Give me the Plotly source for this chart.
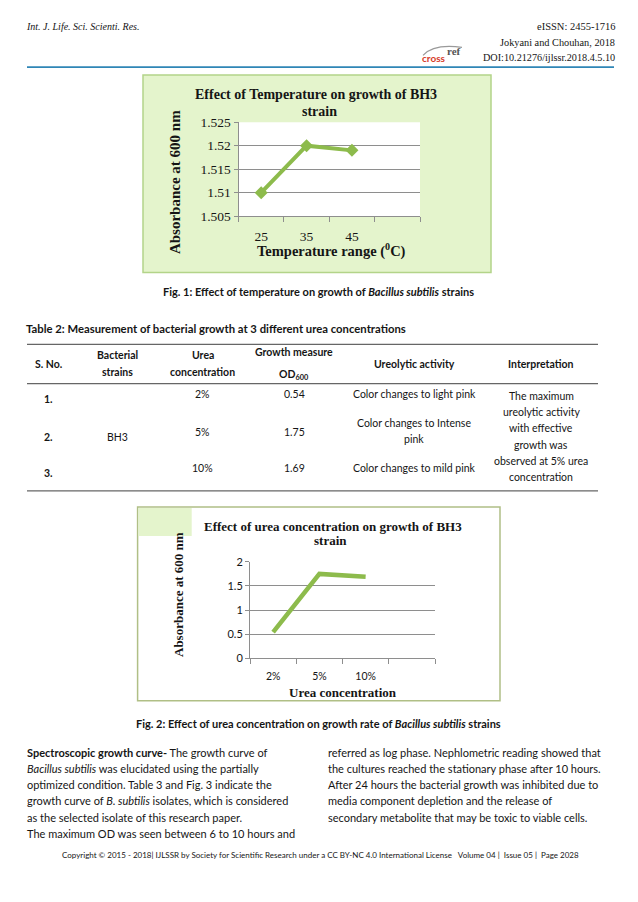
import plotly.graph_objects as go

# page is drawn inside the default 8px body margin of the html page
PAGE_W, PAGE_H = 638, 902
OFF = 8
W, H = PAGE_W - 2 * OFF, PAGE_H - 2 * OFF


def px(x):
    return (x - OFF) / W


def py(y):
    return 1 - (y - OFF) / H


# ---------------- data ----------------
temp_labels = ["25", "35", "45"]
temp_absorbance = [1.510, 1.520, 1.519]
temp_yticks = [1.505, 1.51, 1.515, 1.52, 1.525]

urea_labels = ["2%", "5%", "10%"]
urea_absorbance = [0.54, 1.75, 1.69]
urea_yticks = [0, 0.5, 1, 1.5, 2]

table_sno = ["1.", "2.", "3."]
table_strain = "BH3"
table_urea = ["2%", "5%", "10%"]
table_od = ["0.54", "1.75", "1.69"]
table_activity = [["Color changes to light pink"],
                  ["Color changes to Intense", "pink"],
                  ["Color changes to mild pink"]]
table_interpretation = ["The maximum", "ureolytic activity", "with effective",
                        "growth was", "observed at 5% urea", "concentration"]

body_left = [
    "<b>Spectroscopic growth curve-</b> The growth curve of",
    "<i>Bacillus subtilis</i> was elucidated using the partially",
    "optimized condition. Table 3 and Fig. 3 indicate the",
    "growth curve of <i>B. subtilis</i> isolates, which is considered",
    "as the selected isolate of this research paper.",
    "The maximum OD was seen between 6 to 10 hours and",
]
body_right = [
    "referred as log phase. Nephlometric reading showed that",
    "the cultures reached the stationary phase after 10 hours.",
    "After 24 hours the bacterial growth was inhibited due to",
    "media component depletion and the release of",
    "secondary metabolite that may be toxic to viable cells.",
]

# ---------------- styles ----------------
GREEN = "#8dbb4c"
SERIF = "Liberation Serif"
SANS = "Lato"
INK = "#151515"
GRID = "#8e8e8e"

fig = go.Figure()

x_pos_t = list(range(len(temp_labels)))
x_pos_u = list(range(len(urea_labels)))

fig.add_trace(go.Scatter(x=x_pos_t, y=temp_absorbance, xaxis="x", yaxis="y",
                         mode="lines+markers",
                         line=dict(color=GREEN, width=4),
                         marker=dict(symbol="diamond", size=10, color=GREEN),
                         hoverinfo="skip"))
fig.add_trace(go.Scatter(x=x_pos_u, y=urea_absorbance, xaxis="x2", yaxis="y2",
                         mode="lines",
                         line=dict(color=GREEN, width=4.5),
                         hoverinfo="skip"))

minor_ticks = dict(tickmode="linear", tick0=-0.5, dtick=1, ticks="outside",
                   ticklen=5, tickcolor=GRID, showgrid=False)

fig.update_layout(
    width=W, height=H,
    margin=dict(l=0, r=0, t=0, b=0),
    paper_bgcolor="white",
    plot_bgcolor="rgba(0,0,0,0)",
    showlegend=False,
    xaxis=dict(domain=[px(238.5), px(420)], anchor="y", range=[-0.5, 3.5],
               tickmode="array", tickvals=x_pos_t, ticktext=temp_labels,
               ticks="", showgrid=False, zeroline=False, showline=True,
               linecolor=GRID, minor=minor_ticks, ticklabelstandoff=8,
               tickfont=dict(family=SERIF, size=13.5, color=INK)),
    yaxis=dict(domain=[py(212.7), py(117)], anchor="x",
               range=[1.5049999, 1.5250001],
               tickmode="array", tickvals=temp_yticks,
               ticktext=[f"{v:g}" for v in temp_yticks],
               showgrid=True, gridcolor=GRID, gridwidth=1, zeroline=False,
               showline=True, linecolor=GRID, ticks="outside", ticklen=4,
               tickcolor=GRID,
               tickfont=dict(family=SERIF, size=13.5, color=INK)),
    xaxis2=dict(domain=[px(250), px(435)], anchor="y2", range=[-0.5, 3.5],
                tickmode="array", tickvals=x_pos_u, ticktext=urea_labels,
                ticks="", showgrid=False, zeroline=False, showline=True,
                linecolor=GRID, minor=minor_ticks, ticklabelstandoff=8,
                tickfont=dict(family=SANS, size=10.5, color=INK)),
    yaxis2=dict(domain=[py(662.3), py(564.3)], anchor="x2",
                range=[0, 2.0001],
                tickmode="array", tickvals=urea_yticks,
                ticktext=[f"{v:g}" for v in urea_yticks],
                showgrid=True, gridcolor=GRID, gridwidth=1, zeroline=False,
                showline=True, linecolor=GRID, ticks="outside", ticklen=4,
                tickcolor=GRID,
                tickfont=dict(family=SANS, size=11, color=INK)),
)

shapes = []


def rect(x0, y0, x1, y1, fill, line=None, lw=0):
    shapes.append(dict(type="rect", xref="paper", yref="paper",
                       x0=px(x0), x1=px(x1), y0=py(y1), y1=py(y0),
                       fillcolor=fill, layer="below",
                       line=dict(color=line or fill, width=lw)))


def hline(x0, x1, y, color, width):
    shapes.append(dict(type="line", xref="paper", yref="paper",
                       x0=px(x0), x1=px(x1), y0=py(y), y1=py(y),
                       line=dict(color=color, width=width)))


# header rule
hline(27, 614, 61, "#2f86b6", 1.6)
# crossref swoosh
shapes.append(dict(type="path", xref="paper", yref="paper",
                   path=f"M {px(423)} {py(49)} Q {px(434)} {py(37)} {px(462)} {py(41)}",
                   line=dict(color="#9a9a9a", width=1.2)))

# chart 1 frame
rect(143, 69, 491, 270, "#e4f4cc", "#b3d489", 1.5)
rect(238.5, 117, 420, 212.7, "white")
# chart 2 frame
rect(137.6, 508.5, 500, 705.5, "white", "#b0bf86", 1.5)
rect(138.5, 509.5, 191.7, 538, "#e4f4cc")

# table rules
hline(27, 598, 343, "#666666", 1.2)
hline(27, 598, 383, "#666666", 1.2)
hline(27, 598, 492, "#666666", 1.2)

annotations = []


def txt(text, x, y, size=10.5, family=SANS, xanchor="center", color=INK,
        angle=0):
    annotations.append(dict(text=text, x=px(x), y=py(y), xref="paper",
                            yref="paper", xanchor=xanchor, yanchor="middle",
                            showarrow=False, textangle=angle, borderpad=0,
                            font=dict(family=family, size=size, color=color)))


# header
txt("<i>Int. J. Life. Sci. Scienti. Res.</i>", 25, 20, 10, SERIF, "left")
txt("eISSN: 2455-1716", 616, 20, 10.5, SERIF, "right")
txt("Jokyani and Chouhan, 2018", 616, 36, 10.3, SERIF, "right")
txt("DOI:10.21276/ijlssr.2018.4.5.10", 616, 51, 10.2, SERIF, "right")
txt("<b>cross</b>", 421, 52, 10, SANS, "left", "#d63b2a")
txt("<b>ref</b>", 446, 45, 11, SERIF, "left", "#555555")

# chart 1 texts
txt("<b>Effect of Temperature on growth of BH3</b>", 316, 89, 14, SERIF)
txt("<b>strain</b>", 319, 106, 14, SERIF)
txt("<b>Absorbance at 600 nm</b>", 175, 178, 15, SERIF, angle=-90)
txt("<b>Temperature range (<sup>0</sup>C)</b>", 331, 248, 14.5, SERIF)

txt("<b>Fig. 1: Effect of temperature on growth of <i>Bacillus subtilis</i> strains</b>",
    318, 289, 11)
txt("<b>Table 2: Measurement of bacterial growth at 3 different urea concentrations</b>",
    25, 327, 11.3, SANS, "left")

# table header
txt("<b>S. No.</b>", 49, 363)
txt("<b>Bacterial</b>", 117, 354)
txt("<b>strains</b>", 117, 371)
txt("<b>Urea</b>", 203, 354)
txt("<b>concentration</b>", 203, 371)
txt("<b>Growth measure</b>", 294, 351)
txt("<b>OD<sub>600</sub></b>", 294, 374)
txt("<b>Ureolytic activity</b>", 414, 363)
txt("<b>Interpretation</b>", 541, 363)

sno_y = [399, 437, 474]
val_y = [394, 432, 469]
for i in range(3):
    txt(f"<b>{table_sno[i]}</b>", 49, sno_y[i])
    txt(table_urea[i], 203, val_y[i])
    txt(table_od[i], 294, val_y[i])
txt(table_strain, 117, 437)
act_y = [[394], [423, 439], [469]]
for lines, ys in zip(table_activity, act_y):
    for line, y in zip(lines, ys):
        txt(line, 414, y)
interp_y = [396, 412, 428, 445, 462, 478]
for line, y in zip(table_interpretation, interp_y):
    txt(line, 541, y)

# chart 2 texts
txt("<b>Effect of urea concentration on growth of BH3</b>", 333, 528, 13, SERIF)
txt("<b>strain</b>", 330, 543, 13, SERIF)
txt("<b>Absorbance at 600 nm</b>", 178, 598, 13, SERIF, angle=-90)
txt("<b>Urea concentration</b>", 343, 697, 13, SERIF)

txt("<b>Fig. 2: Effect of urea concentration on growth rate of <i>Bacillus subtilis</i> strains</b>",
    318, 729, 11)

# body text
body_y = [758, 774.5, 791, 807.5, 824, 840.5]
for line, y in zip(body_left, body_y):
    txt(line, 26, y, 11, SANS, "left")
for line, y in zip(body_right, body_y):
    txt(line, 327, y, 11, SANS, "left")

txt("Copyright © 2015 - 2018| IJLSSR by Society for Scientific Research under a CC BY-NC 4.0 "
    "International License   Volume 04 |  Issue 05 |  Page 2028", 320, 862, 8)

fig.update_layout(shapes=shapes, annotations=annotations)
fig.write_html("out.html")
